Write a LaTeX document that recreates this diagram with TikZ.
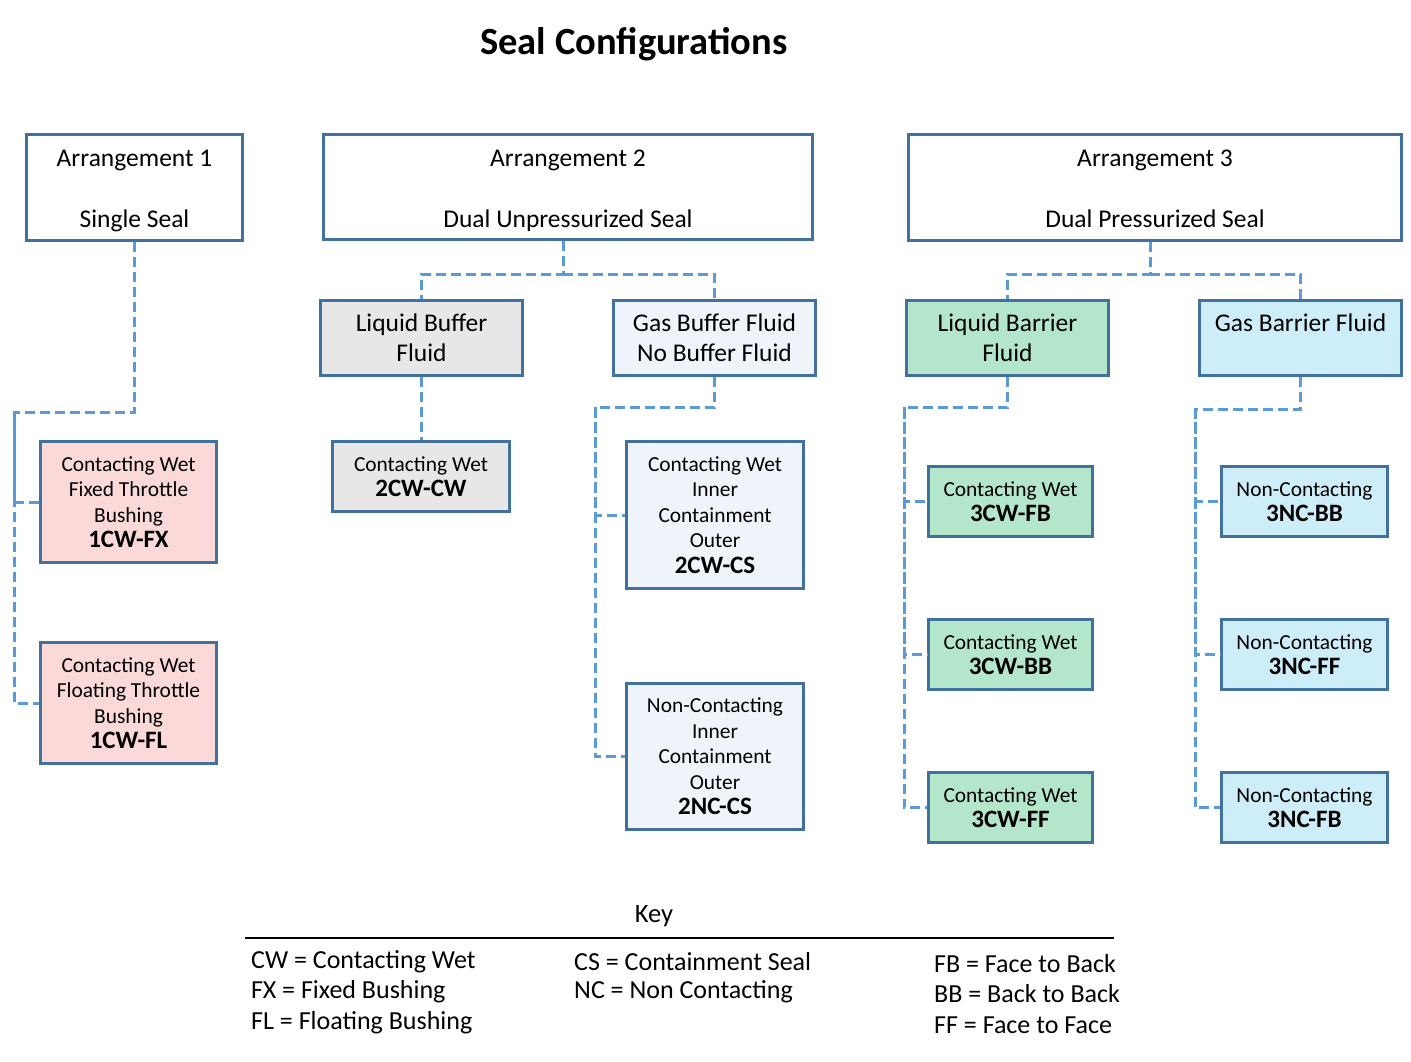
\documentclass[tikz,border=0pt]{standalone}
\usepackage{fontspec}
\setmainfont{Carlito}
\usetikzlibrary{positioning}
\definecolor{boxline}{HTML}{41719C}
\definecolor{linkblue}{HTML}{5B9BD5}
\definecolor{pinkfill}{HTML}{FCD9D9}
\definecolor{grayfill}{HTML}{E7E7E7}
\definecolor{palefill}{HTML}{EEF4FA}
\definecolor{greenfill}{HTML}{B3E6CB}
\definecolor{cyanfill}{HTML}{CDEDF9}
\newcommand{\sealcode}[1]{{\fontsize{25}{27}\selectfont\bfseries #1}}
\newcommand{\arrtext}[2]{\rule{0pt}{25pt}#1\\[31pt]#2\rule[-6pt]{0pt}{6pt}}

\begin{document}
\begin{tikzpicture}[x=1pt,y=-1pt,
  box/.style={draw=boxline,line width=3pt,inner sep=0pt,align=center},
  arrbox/.style={box,fill=white,font=\fontsize{25.5}{30}\selectfont},
  fluidbox/.style={box,minimum width=202pt,minimum height=75pt,font=\fontsize{25.5}{30}\selectfont},
  sealbox/.style={box,font=\fontsize{21.4}{25.5}\selectfont},
  link/.style={draw=linkblue,line width=3pt,dash pattern=on 10pt off 5pt},
  keytext/.style={anchor=west,inner sep=0pt,font=\fontsize{26}{30}\selectfont}]
\useasboundingbox (0,0) rectangle (1411,1062);
% title
\node[font=\fontsize{38.5}{44}\selectfont\bfseries] (title) at (634,44) {Seal Configurations};
% arrangements
\node[arrbox,minimum width=216pt,minimum height=106pt] (arr1) at (134.5,187.5) {\arrtext{Arrangement 1}{Single Seal}};
\node[arrbox,minimum width=489pt,minimum height=105pt] (arr2) at (568,187) {\arrtext{Arrangement 2}{Dual Unpressurized Seal}};
\node[arrbox,minimum width=493pt,minimum height=106pt] (arr3) at (1155,187.5) {\arrtext{Arrangement 3}{Dual Pressurized Seal}};
% fluids
\node[fluidbox,fill=grayfill] (lbuf) at (421.5,338) {Liquid Buffer\\Fluid};
\node[fluidbox,fill=palefill] (gbuf) at (714.5,338) {Gas Buffer Fluid\\No Buffer Fluid};
\node[fluidbox,fill=greenfill] (lbar) at (1007.5,338) {Liquid Barrier\\Fluid};
\node[fluidbox,fill=cyanfill] (gbar) at (1300.5,338) {Gas Barrier Fluid\\\phantom{Fluid}};
% arrangement 1 seals
\node[sealbox,fill=pinkfill,minimum width=176pt,minimum height=121pt] (cwfx) at (128.5,502) {Contacting Wet\\Fixed Throttle\\Bushing\\\sealcode{1CW-FX}};
\node[sealbox,fill=pinkfill,minimum width=176pt,minimum height=121pt] (cwfl) at (128.5,703) {Contacting Wet\\Floating Throttle\\Bushing\\\sealcode{1CW-FL}};
% arrangement 2 seals
\node[sealbox,fill=grayfill,minimum width=177pt,minimum height=70pt] (cwcw) at (421,476.5) {Contacting Wet\\\sealcode{2CW-CW}};
\node[sealbox,fill=palefill,minimum width=177pt,minimum height=147pt] (cwcs) at (715,515) {Contacting Wet\\Inner\\Containment\\Outer\\\sealcode{2CW-CS}};
\node[sealbox,fill=palefill,minimum width=177pt,minimum height=146pt] (nccs) at (715,756.5) {Non-Contacting\\Inner\\Containment\\Outer\\\sealcode{2NC-CS}};
% arrangement 3 seals
\foreach \nm/\cd/\yy in {cwfb/3CW-FB/501.5,cwbb/3CW-BB/654.5,cwff/3CW-FF/807.5}
  \node[sealbox,fill=greenfill,minimum width=164pt,minimum height=70pt] (\nm) at (1010.5,\yy) {Contacting Wet\\\sealcode{\cd}};
\foreach \nm/\cd/\yy in {ncbb/3NC-BB/501.5,ncff/3NC-FF/654.5,ncfb/3NC-FB/807.5}
  \node[sealbox,fill=cyanfill,minimum width=166pt,minimum height=70pt] (\nm) at (1304.5,\yy) {Non-Contacting\\\sealcode{\cd}};
% bends
\coordinate (bend1) at (14,412);
\coordinate (join2) at (563,274);
\coordinate (bend2) at (595,407);
\coordinate (join3) at (1150,274);
\coordinate (bend3) at (904,407);
\coordinate (bend4) at (1195,409);
% connectors
\draw[link] (arr1.south) |- (bend1) |- (cwfl.west);
\draw[link] (bend1) |- (cwfx.west);
\draw[link] (arr2.south -| join2) -- (join2) -| (lbuf.north);
\draw[link] (join2) -| (gbuf.north);
\draw[link] (lbuf.south) -- (cwcw.north -| lbuf.south);
\draw[link] (gbuf.south) |- (bend2) |- (nccs.west);
\draw[link] (bend2) |- (cwcs.west);
\draw[link] (arr3.south -| join3) -- (join3) -| (lbar.north);
\draw[link] (join3) -| (gbar.north);
\draw[link] (lbar.south) |- (bend3) |- (cwff.west);
\draw[link] (bend3) |- (cwfb.west);
\draw[link] (bend3) |- (cwbb.west);
\draw[link] (gbar.south) |- (bend4) |- (ncfb.west);
\draw[link] (bend4) |- (ncbb.west);
\draw[link] (bend4) |- (ncff.west);
% key
\node[font=\fontsize{26.5}{30}\selectfont] (key) at (654,916) {Key};
\coordinate (keyl) at (245,938);
\coordinate (keyr) at (1114,938);
\draw[line width=2pt] (keyl) -- (keyr);
\node[keytext] (kcw) at (251,962) {CW = Contacting Wet};
\node[keytext] (kfx) at (251,992) {FX = Fixed Bushing};
\node[keytext] (kfl) at (251,1023) {FL = Floating Bushing};
\node[keytext] (kcs) at (574,962) {CS = Containment Seal};
\node[keytext] (knc) at (574,992) {NC = Non Contacting};
\node[keytext] (kfb) at (934,964) {FB = Face to Back};
\node[keytext] (kbb) at (934,994) {BB = Back to Back};
\node[keytext] (kff) at (934,1025) {FF = Face to Face};
\end{tikzpicture}
\end{document}
